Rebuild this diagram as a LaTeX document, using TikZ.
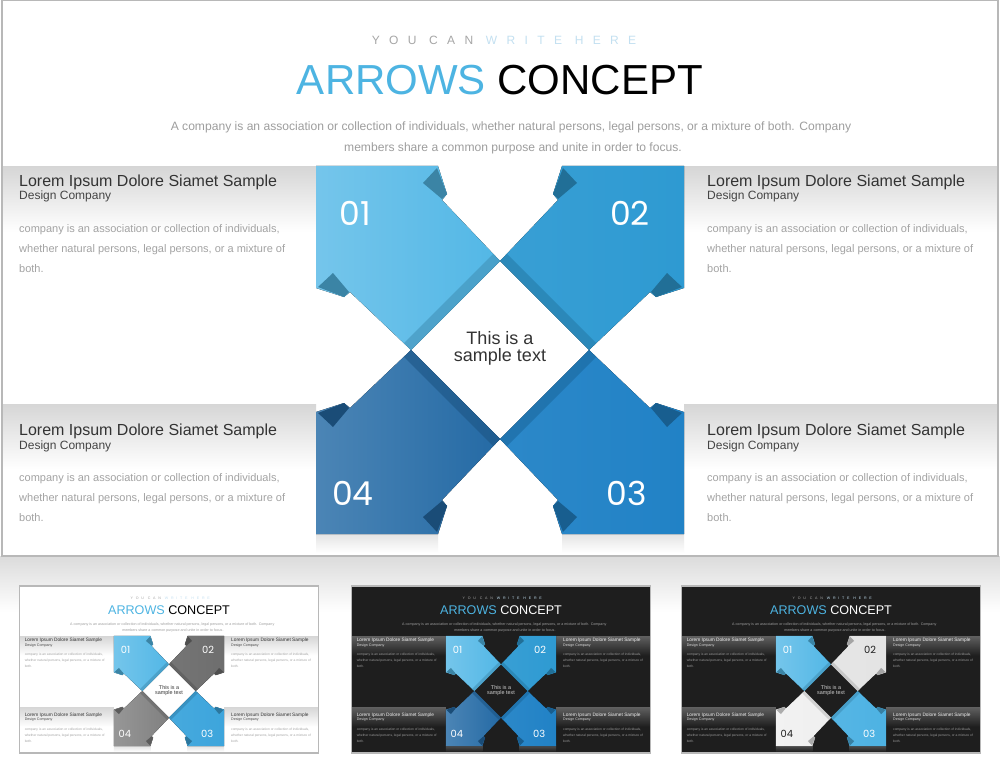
\documentclass[tikz,border=0pt]{standalone}
\usepackage{fontspec}
\setmainfont{Liberation Sans}
\newfontfamily\numfont{Poppins}
\usetikzlibrary{
		positioning
	}

% slide colours (main slide = light theme)
\definecolor{slidebg}{HTML}{FFFFFF}
\definecolor{slidefg}{HTML}{000000}
\definecolor{slidehead}{HTML}{333333}
\definecolor{slidesub}{HTML}{444444}
\definecolor{slidebody}{HTML}{A3A3A3}
\definecolor{slideframe}{HTML}{B8B8B8}
\definecolor{bandtop}{HTML}{D6D6D6}
\definecolor{titleblue}{HTML}{4DB4E2}
\definecolor{kickblue}{HTML}{C3E0F1}
\definecolor{arrowA}{HTML}{52B7E6}
\definecolor{arrowB}{HTML}{2E9AD2}
\definecolor{arrowC}{HTML}{2182C6}
\definecolor{arrowD}{HTML}{246AA5}
\definecolor{numA}{HTML}{FFFFFF}
\definecolor{numB}{HTML}{FFFFFF}
\definecolor{numC}{HTML}{FFFFFF}
\definecolor{numD}{HTML}{FFFFFF}

\tikzset{
		headtxt/.style={anchor=base west, inner sep=0, text=slidehead, font=\fontsize{16}{18}\selectfont},
		subtxt/.style={anchor=base west, inner sep=0, text=slidesub, font=\fontsize{12}{14}\selectfont},
		bodytxt/.style={anchor=north west, inner sep=0, align=left, text=slidebody, font=\fontsize{11}{20}\selectfont},
		leadtxt/.style={anchor=base, inner sep=0, text=black!38, font=\fontsize{12.1}{14}\selectfont},
		numtxt/.style={anchor=base, inner sep=0, font=\numfont\fontsize{33}{33}\selectfont},
		band/.style={top color=bandtop, bottom color=slidebg}
	}

% one arrow: colour, xscale, yscale, shade strength (drawn for the top-left one, mirrored for the others)
\newcommand{\arrowpiece}[4]{%
	\begin{scope}[shift={(500,350)}, xscale=#2, yscale=#3]
		\fill[left color=#1!#4!white, right color=#1] (-184,-184) -- (-62,-184) -- (-53,-156) -- (-58,-150) -- (0,-89) -- (-89,0) -- (-150,-58) -- (-156,-53) -- (-184,-62) -- cycle;
		\fill[#1!72!black] (-77,-167) -- (-63,-182) -- (-53,-156) -- (-58,-151) -- cycle; % fold flaps
		\fill[#1!72!black] (-167,-77) -- (-182,-63) -- (-156,-53) -- (-151,-58) -- cycle;
		\fill[#1!80!black, opacity=0.6] (0,-89) -- (-89,0) -- (-96,-7) -- (-7,-96) -- cycle;
	\end{scope}}

\newcommand{\arrowslide}{%
	\fill[slidebg] (2,0) rectangle (998,556);
	\fill[band] (2,167) rectangle (316,232);
	\fill[band] (684,167) rectangle (998,232);
	\fill[band] (2,404) rectangle (316,469);
	\fill[band] (684,404) rectangle (998,469);
	\fill[top color=bandtop!70!slidebg, bottom color=slidebg] (316,533) rectangle (438,553);
	\fill[top color=bandtop!70!slidebg, bottom color=slidebg] (562,533) rectangle (684,553);
	\arrowpiece{arrowA}{1}{1}{80}
	\arrowpiece{arrowB}{-1}{1}{95}
	\arrowpiece{arrowC}{-1}{-1}{95}
	\arrowpiece{arrowD}{1}{-1}{82}
	\draw[slideframe, line width=1.5] (2,0) rectangle (998,556);
	\node[anchor=base, inner sep=0, text=black!35, font=\fontsize{12}{14}\selectfont\addfontfeature{LetterSpace=78}] (kicker) at (504,45) {YOU CAN \textcolor{kickblue}{WRITE HERE}};
	\node[anchor=base, inner sep=0, font=\fontsize{42}{46}\selectfont] (title) at (500,95) {\textcolor{titleblue}{ARROWS} \textcolor{slidefg}{CONCEPT}};
	\node[leadtxt] (lead1) at (511,131) {A company is an association or collection of individuals, whether natural persons, legal persons, or a mixture of both. Company};
	\node[leadtxt] (lead2) at (513,152) {members share a common purpose and unite in order to focus.};
	\foreach \px/\py/\pn in {19/0/a, 707/0/b, 707/249/c, 19/249/d} {
		\node[headtxt] (head\pn) at (\px,186+\py) {Lorem Ipsum Dolore Siamet Sample};
		\node[subtxt] (sub\pn) at (\px,200+\py) {Design Company};
		\node[bodytxt] (body\pn) at (\px,224+\py) {company is an association or collection of individuals,\\whether natural persons, legal persons, or a mixture of\\both.};
	}
	\node[numtxt, text=numA] (n1) at (355,225) {01};
	\node[numtxt, text=numB] (n2) at (630,225) {02};
	\node[numtxt, text=numC] (n3) at (627,505) {03};
	\node[numtxt, text=numD] (n4) at (353,505) {04};
	\node[align=center, inner sep=0, text=slidefg!80!slidebg, font=\fontsize{18}{17}\selectfont] (core) at (500,348) {This is a\\sample text};
}

\begin{document}
\begin{tikzpicture}[x=1pt, y=-1pt]
	\useasboundingbox (0,0) rectangle (1000,778);
	\fill[white] (0,0) rectangle (1000,778);
	\fill[top color=black!14, bottom color=white] (0,556) rectangle (1000,612); % shadow under the slide

	\arrowslide

	% light theme, grey arrows
	\begin{scope}[shift={(19,586)}, scale=0.3, transform shape, name prefix=ta-]
		\definecolor{arrowB}{HTML}{6E6E6E}
		\definecolor{arrowC}{HTML}{3DA5DC}
		\definecolor{arrowD}{HTML}{808080}
		\arrowslide
	\end{scope}

	% dark theme, blue arrows
	\begin{scope}[shift={(351,586)}, scale=0.3, transform shape, name prefix=tb-]
		\definecolor{slidebg}{HTML}{1E1E1E}
		\definecolor{slidefg}{HTML}{FFFFFF}
		\definecolor{slidehead}{HTML}{F2F2F2}
		\definecolor{slidesub}{HTML}{E0E0E0}
		\definecolor{slidebody}{HTML}{9A9A9A}
		\definecolor{bandtop}{HTML}{606060}
		\arrowslide
	\end{scope}

	% dark theme, white arrows
	\begin{scope}[shift={(681,586)}, scale=0.3, transform shape, name prefix=tc-]
		\definecolor{slidebg}{HTML}{1E1E1E}
		\definecolor{slidefg}{HTML}{FFFFFF}
		\definecolor{slidehead}{HTML}{F2F2F2}
		\definecolor{slidesub}{HTML}{E0E0E0}
		\definecolor{slidebody}{HTML}{9A9A9A}
		\definecolor{bandtop}{HTML}{606060}
		\definecolor{arrowB}{HTML}{E4E4E4}
		\definecolor{arrowC}{HTML}{4DB2E3}
		\definecolor{arrowD}{HTML}{EFEFEF}
		\definecolor{numB}{HTML}{1E1E1E}
		\definecolor{numD}{HTML}{1E1E1E}
		\arrowslide
	\end{scope}
\end{tikzpicture}
\end{document}
